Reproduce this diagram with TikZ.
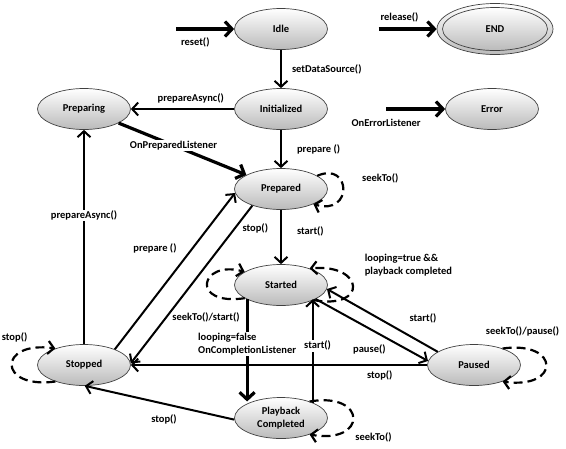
\documentclass[tikz,border=0pt]{standalone}
\usepackage{fontspec}
\setmainfont{Carlito}
\usetikzlibrary{arrows.meta,positioning,shapes.geometric}

\begin{document}
\begin{tikzpicture}[
  x=1pt, y=-1pt,
  font=\fontsize{10.5}{13}\selectfont\bfseries,
  on grid,
  state/.style={ellipse, draw=black!75, line width=0.7pt, top color=white, bottom color=black!27, minimum width=93pt, minimum height=41pt, inner sep=1pt, align=center},
  trans/.style={-{Straight Barb[length=6pt,width=13pt]}, line width=2pt},
  heavy/.style={-{Straight Barb[length=7pt,width=15pt]}, line width=3.2pt},
  selfloop/.style={trans, line width=2.2pt, dash pattern=on 9pt off 5pt},
  lbl/.style={inner sep=1pt},
  gap/.style={lbl, fill=white}
]
\useasboundingbox (0,0) rectangle (566,448);

% states
\node[state] (idle) at (281,29) {Idle};
\node[state, below=80pt of idle] (init) {Initialized};
\node[state, left=197pt of init] (preparing) {Preparing};
\node[state, right=211pt of init] (error) {Error};
\node[state, right=214pt of idle, minimum width=116pt, minimum height=51pt] (endring) {};
\node[state, minimum width=105pt, minimum height=43pt] (end) at (endring) {END};
\node[state, below=80pt of init] (prepared) {Prepared};
\node[state, below=96pt of prepared] (started) {Started};
\node[state, below=256pt of preparing] (stopped) {Stopped};
\node[state, below right=80pt and 193pt of started] (paused) {Paused};
\node[state, below=133pt of started] (playback) {Playback\\Completed};

% loose ends
\coordinate[left=58pt of idle.west] (resetin);
\coordinate[left=58pt of endring.west] (releasein);
\coordinate[left=59pt of error.west] (errorin);

% transitions
\draw[heavy] (resetin) -- (idle) node[lbl, pos=0.33, below=6pt] {reset()};
\draw[heavy] (releasein) -- (endring) node[lbl, pos=0.36, above=4pt] {release()};
\draw[heavy] (errorin) -- (error) node[lbl, at start, below=8pt] {OnErrorListener};
\draw[trans] (idle) -- (init) node[lbl, midway, right=9pt] {setDataSource()};
\draw[trans] (init) -- (preparing) node[lbl, pos=0.42, above=4pt] {prepareAsync()};
\draw[heavy] (preparing) -- (prepared) node[gap, pos=0.43] {OnPreparedListener};
\draw[trans] (init) -- (prepared) node[lbl, midway, right=14pt] {prepare ()};
\draw[trans] (prepared) -- (started) node[lbl, pos=0.4, right=14pt] {start()};
\draw[trans] (prepared.210) -- (stopped.2) node[lbl, pos=0.13, anchor=west, xshift=4pt, yshift=-2pt] {stop()};
\draw[trans] (stopped.27) -- (prepared.185) node[lbl, pos=0.63, anchor=east, xshift=-12pt, yshift=2pt] {prepare ()};
\draw[trans] (stopped) -- (preparing) node[gap, pos=0.6] {prepareAsync()};
\draw[trans] (started.-22) -- (paused.175) node[lbl, pos=0.64, anchor=north east, yshift=-4pt] {pause()};
\draw[trans] (paused.160) -- (started.-5) node[lbl, pos=0.29, anchor=south west, xshift=2pt, yshift=9pt] {start()};
\draw[trans] (paused) -- (stopped) node[lbl, pos=0.16, below=4pt] {stop()};
\draw[heavy] (started.203) -- (started.203 |- playback.150) node[gap, pos=0.44, align=left] {looping=false\\OnCompletionListener};
\draw[trans] (playback.26) -- (playback.26 |- started.-23) node[gap, pos=0.55, xshift=5pt] {start()};
\draw[trans] (playback.182) -- (stopped.-88) node[lbl, pos=0.47, below=9pt] {stop()};

% self loops
\draw[selfloop] (prepared.20) .. controls +(34,-15) and +(40,12) .. (prepared.-25) node[lbl, pos=0.5, anchor=west, xshift=17pt, yshift=10pt] {seekTo()};
\draw[selfloop] (started.-25) .. controls +(55,10) and +(55,-5) .. (started.30) node[lbl, pos=0.5, anchor=west, align=left, xshift=10pt, yshift=21pt] {looping=true \&\&\\playback completed};
\draw[selfloop] (started.200) .. controls +(-55,8) and +(-45,-12) .. (started.160) node[lbl, pos=0, anchor=north east, xshift=-3pt, yshift=-12pt] {seekTo()/start()};
\draw[selfloop] (stopped.210) .. controls +(-58,8) and +(-58,-8) .. (stopped.150) node[lbl, pos=1, anchor=south east, xshift=-26pt, yshift=4pt] {stop()};
\draw[selfloop] (paused.30) .. controls +(58,-8) and +(58,8) .. (paused.-30) node[lbl, pos=0, anchor=south, xshift=20pt, yshift=10pt] {seekTo()/pause()};
\draw[selfloop] (playback.30) .. controls +(58,-10) and +(58,10) .. (playback.-30) node[lbl, pos=0.75, anchor=west, xshift=11pt, yshift=-5pt] {seekTo()};
\end{tikzpicture}
\end{document}
